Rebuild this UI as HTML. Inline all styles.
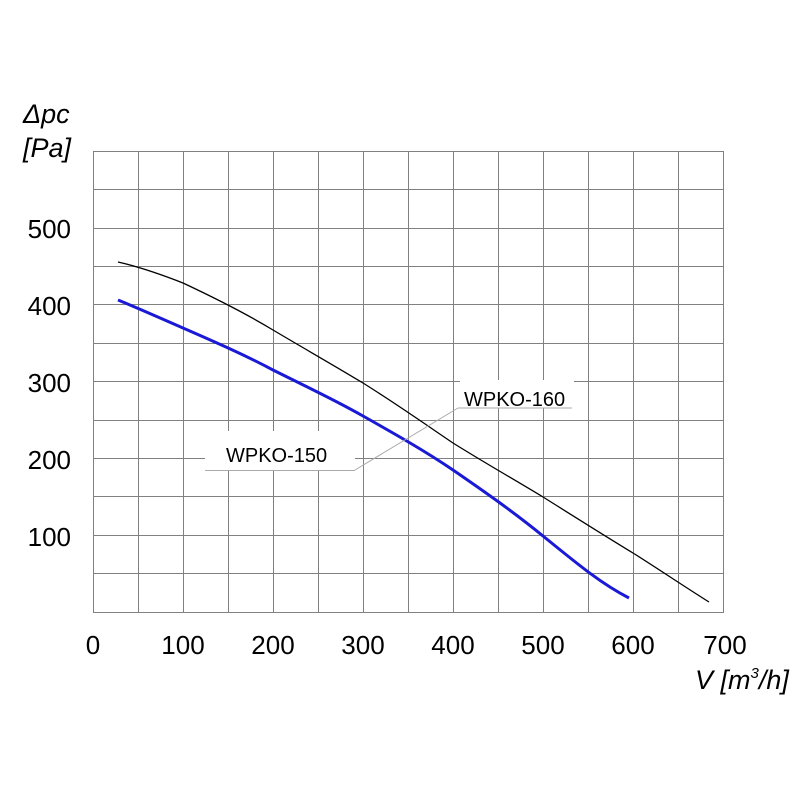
<!DOCTYPE html>
<html><head><meta charset="utf-8"><style>
html,body{margin:0;padding:0;background:#fff;}
svg{display:block;font-family:"Liberation Sans",Arial,sans-serif;}
</style></head><body>
<svg width="800" height="800" viewBox="0 0 800 800">
<rect width="800" height="800" fill="#fff"/>
<g stroke="#808080" stroke-width="1" fill="none">
<path d="M93.5 151V612 M138.5 151V612 M183.5 151V612 M228.5 151V612 M273.5 151V612 M318.5 151V612 M363.5 151V612 M408.5 151V612 M453.5 151V612 M498.5 151V612 M543.5 151V612 M588.5 151V612 M633.5 151V612 M678.5 151V612 M723.5 151V612"/>
<path d="M93 151.5H724 M93 189.5H724 M93 228.5H724 M93 266.5H724 M93 304.5H724 M93 343.5H724 M93 381.5H724 M93 420.5H724 M93 458.5H724 M93 496.5H724 M93 535.5H724 M93 573.5H724 M93 612.5H724"/>
</g>
<path d="M118 262 C140 267,160 274,183 283 C215 298,245 313,273 330 C305 349,335 366,363 383 C395 403,425 424,453 443 C485 463,515 480,543 497 C575 517,605 536,633 553 C660 570,685 587,709 602" fill="none" stroke="#000" stroke-width="1.3"/>
<path d="M118 300 C140 309,160 318,183 328 C215 342,245 355,273 370 C305 386,335 400,363 416 C395 434,425 451,453 470 C485 492,515 513,543 536 C575 562,600 583,629 598" fill="none" stroke="#1a1ad6" stroke-width="3"/>
<rect x="460" y="380" width="114" height="28" fill="#fff"/>
<rect x="205" y="431" width="150" height="39" fill="#fff"/>
<g stroke="#aaa" stroke-width="1" fill="none">
<path d="M458 408H572 M458 408L355 470 M205 470.5H355"/>
</g>
<text x="464" y="406" font-size="20" fill="#000">WPKO-160</text>
<text x="226" y="462" font-size="20" fill="#000">WPKO-150</text>
<g font-size="26" fill="#000" text-anchor="end">
<text x="71" y="238">500</text>
<text x="71" y="315">400</text>
<text x="71" y="392">300</text>
<text x="71" y="469">200</text>
<text x="71" y="546">100</text>
</g>
<g font-size="26" fill="#000" text-anchor="middle">
<text x="93" y="654">0</text>
<text x="183" y="654">100</text>
<text x="273" y="654">200</text>
<text x="363" y="654">300</text>
<text x="453" y="654">400</text>
<text x="543" y="654">500</text>
<text x="633" y="654">600</text>
<text x="725" y="654">700</text>
</g>
<g font-size="27" font-style="italic" fill="#000">
<text x="23" y="123">Δpc</text>
<text x="23" y="157">[Pa]</text>
<text x="695" y="689">V [m<tspan font-size="15" dy="-11">3</tspan><tspan dy="11">/h]</tspan></text>
</g>
</svg>
</body></html>
